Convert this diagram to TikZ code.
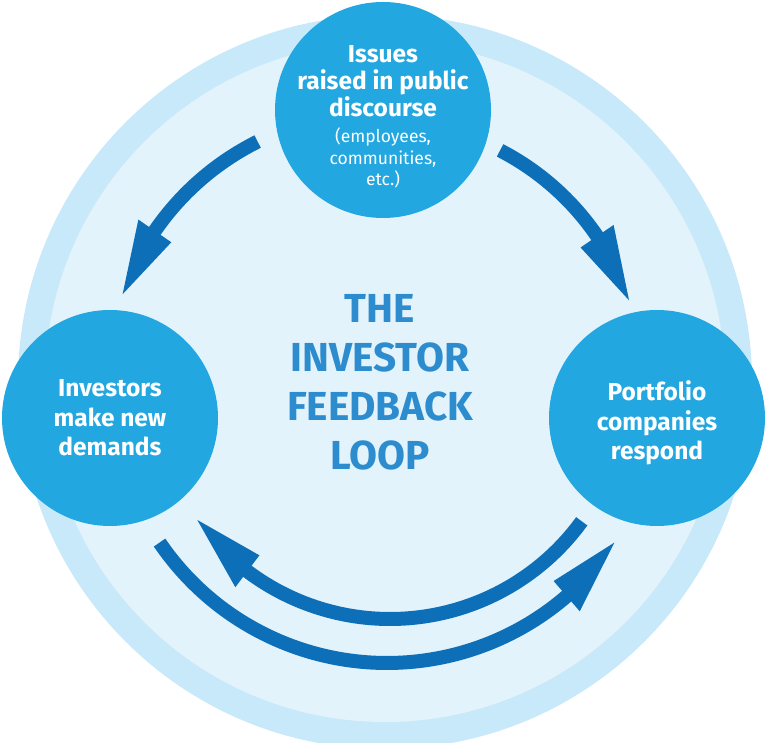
\documentclass[tikz,border=0pt]{standalone}
\usepackage{fontspec}
\setmainfont{Fira Sans}
\usetikzlibrary{calc}
\definecolor{ringout}{RGB}{200,233,249}
\definecolor{ringin}{RGB}{226,243,252}
\definecolor{bubble}{RGB}{35,167,224}
\definecolor{arrowblue}{RGB}{14,111,185}
\definecolor{titleblue}{RGB}{44,140,206}
\begin{document}
\begin{tikzpicture}[x=1pt,y=1pt,
  bubblenode/.style={circle,fill=bubble,minimum size=216pt,inner sep=0pt},
  bubbletext/.style={align=center,text=white,font=\bfseries\fontsize{24.5}{29.5}\selectfont},
  shaft/.style={draw=arrowblue,line width=14pt},
  head/.style={fill=arrowblue}]
\useasboundingbox (0,0) rectangle (768,743);
\fill[ringout] (385,361) circle (367);
\fill[ringin] (385,361) circle (340);
\coordinate (C1) at (379,358);
\coordinate (C2) at (390,361);
\coordinate (C3) at (387,355);
% top-left arrow
\draw[shaft] ([shift={(116.5:272)}]C1) arc[start angle=116.5,end angle=147,radius=272];
\fill[head] ([shift={(145.5:252)}]C1) -- ([shift={(160.5:272)}]C1) -- ([shift={(145.5:292)}]C1) -- cycle;
% top-right arrow
\draw[shaft] ([shift={(62.7:264)}]C1) arc[start angle=62.7,end angle=33,radius=264];
\fill[head] ([shift={(34.3:244)}]C1) -- ([shift={(18.7:264)}]C1) -- ([shift={(34.3:284)}]C1) -- cycle;
% bottom inner arrow (to the left)
\draw[shaft] ([shift={(-36:237)}]C2) arc[start angle=-36,end angle=-128.5,radius=237];
\fill[head] ([shift={(-127:217)}]C2) -- ([shift={(-144.4:237)}]C2) -- ([shift={(-127:257)}]C2) -- cycle;
% bottom outer arrow (to the right)
\draw[shaft] ([shift={(-145.8:275)}]C3) arc[start angle=-145.8,end angle=-47.8,radius=275];
\fill[head] ([shift={(-49.2:255)}]C3) -- ([shift={(-34.2:275)}]C3) -- ([shift={(-49.2:295)}]C3) -- cycle;
% bubbles
\node[bubblenode] (top) at (383,633) {};
\node[bubblenode] (left) at (110,325) {};
\node[bubblenode] (right) at (657,325) {};
\node[bubbletext,font=\bfseries\fontsize{24.5}{27}\selectfont] (topA) at (383,662) {Issues\\raised in public\\discourse};
\node[align=center,text=white,font=\fontsize{17.5}{21.5}\selectfont] (topB) at (383,585) {(employees,\\communities,\\etc.)};
\node[bubbletext] (leftT) at (110,325) {Investors\\make new\\demands};
\node[bubbletext] (rightT) at (657,320) {Portfolio\\companies\\respond};
\node[align=center,text=titleblue,font=\bfseries\fontsize{40.5}{49}\selectfont] (title) at (380,361) {THE\\INVESTOR\\FEEDBACK\\LOOP};
\end{tikzpicture}
\end{document}
